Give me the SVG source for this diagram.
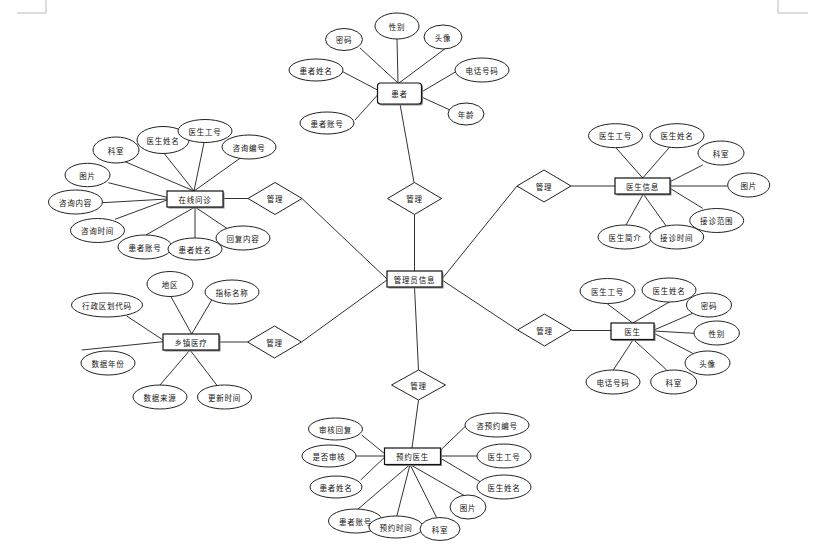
<svg xmlns="http://www.w3.org/2000/svg" width="830" height="554" viewBox="0 0 830 554">
<style>
text{font-family:"Noto Sans CJK SC","Noto Sans",sans-serif;font-size:7.5px;letter-spacing:0.8px;fill:#111;text-anchor:middle;dominant-baseline:central}
.ln{stroke:#333;stroke-width:1;fill:none}
.mark{stroke:#bbb;stroke-width:1;fill:none}
ellipse{fill:#fff;stroke:#222;stroke-width:1}
.ent rect.b{fill:#fff;stroke:#111;stroke-width:1.2}
.ent rect.s{fill:#888;stroke:none}
polygon{fill:#fff;stroke:#222;stroke-width:1}
</style>
<rect width="830" height="554" fill="#fff"/>
<path class="mark" d="M46,0V13H17M778,0V13H808"/>
<g id="connectors" class="ln">
<path d="M400,104L414,182.5M414.5,214.5V271M302,198.5L387,279M248,198.5H223M301.5,342L387,280M247.5,342H219M517,186L442,279M571,186H615M517.5,330L442,280M571.5,330.5H611M414.5,287L418.5,370M418.5,400L412,448"/>
<path d="M360,48L398,83M397,39L398,83M446,48L399,83M457,71L421.5,92M450,110L421.5,97M342.7,71.7L377.5,90M355,120L377.5,95"/>
<path d="M125,161.7L194,191M164,153.3L194,191M204,142.7L194,191M240,158.3L194,191M108.3,182.7L167,197.3M102.7,202.7L167,199M115,219.3L167,200M146,235L195,207M195,238.3V207M229.3,230L195,207"/>
<path d="M615,146.7L642.7,178M670,146.7L642.7,178M702.7,165L670,181.7M727.3,186H670M702.7,208.3L670,188.3M626,225L643.3,194M666.7,226.7L643.3,194"/>
<path d="M170,295L191.7,334M211.7,300L191.7,334M126.7,316L163,340M81.7,350L163,341.7M160,385L190,350M216.7,385L190,350"/>
<path d="M606.7,303.3L632.7,323M670,301.7L632.7,323M692.7,313.3L654,330M694,333.3L654,331M692.7,353.3L654,333.3M613.3,370L633.3,339.5M666.7,370L633.3,339.5"/>
<path d="M361.7,435L385,454M356,456H384.5M360.7,480L384.5,457.3M355,511.7L410,464.5M396.7,516.7L410,464.5M436.7,517.7L410,464.5M465,496L410,464.5M466.7,425L440.7,450M477.3,456H440.7M480,481.7L440.7,458.3"/>
</g>
<g id="rel-top"><polygon points="387.5,198.5 414.5,182.5 441.5,198.5 414.5,214.5"/><text x="414.5" y="198.5">管理</text></g>
<g id="rel-left-upper"><polygon points="248,198.5 275,182.5 302,198.5 275,214.5"/><text x="275" y="198.5">管理</text></g>
<g id="rel-left-lower"><polygon points="247.5,342 274.5,326 301.5,342 274.5,358"/><text x="274.5" y="342">管理</text></g>
<g id="rel-right-upper"><polygon points="517,186 544,170 571,186 544,202"/><text x="544" y="186">管理</text></g>
<g id="rel-right-lower"><polygon points="517.5,330 544.5,314 571.5,330 544.5,346"/><text x="544.5" y="330">管理</text></g>
<g id="rel-bottom"><polygon points="391.5,385 418.5,370 445.5,385 418.5,400"/><text x="418.5" y="385">管理</text></g>
<g id="ent-patient" class="ent"><rect class="s" x="379" y="84.5" width="44" height="21" rx="3"/><rect class="b" x="377.5" y="83" width="44" height="21" rx="3"/><text x="399.5" y="93.5">患者</text></g>
<g id="ent-admin" class="ent"><rect class="s" x="388.5" y="272.5" width="55" height="16"/><rect class="b" x="387" y="271" width="55" height="16"/><text x="414.5" y="279">管理员信息</text></g>
<g id="ent-consult" class="ent"><rect class="s" x="168.5" y="192.5" width="56" height="16"/><rect class="b" x="167" y="191" width="56" height="16"/><text x="195" y="199">在线问诊</text></g>
<g id="ent-docinfo" class="ent"><rect class="s" x="616.5" y="179.5" width="55" height="16"/><rect class="b" x="615" y="178" width="55" height="16"/><text x="642.5" y="186">医生信息</text></g>
<g id="ent-town" class="ent"><rect class="s" x="164.5" y="335.5" width="56" height="16"/><rect class="b" x="163" y="334" width="56" height="16"/><text x="191" y="342">乡镇医疗</text></g>
<g id="ent-doctor" class="ent"><rect class="s" x="612.5" y="324.5" width="43" height="16.5"/><rect class="b" x="611" y="323" width="43" height="16.5"/><text x="632.5" y="331">医生</text></g>
<g id="ent-booking" class="ent"><rect class="s" x="386" y="449.5" width="56" height="16.5"/><rect class="b" x="384.5" y="448" width="56" height="16.5"/><text x="412.5" y="456">预约医生</text></g>
<g id="attr-patient">
<ellipse cx="344" cy="39.5" rx="18.5" ry="11"/><text x="344" y="39.5">密码</text>
<ellipse cx="397" cy="26" rx="22" ry="13"/><text x="397" y="26">性别</text>
<ellipse cx="443" cy="37" rx="19" ry="12"/><text x="443" y="37">头像</text>
<ellipse cx="482" cy="70" rx="27" ry="12"/><text x="482" y="70">电话号码</text>
<ellipse cx="466" cy="114" rx="18" ry="11"/><text x="466" y="114">年龄</text>
<ellipse cx="316" cy="70" rx="27" ry="11"/><text x="316" y="70">患者姓名</text>
<ellipse cx="327" cy="123" rx="27" ry="11"/><text x="327" y="123">患者账号</text>
</g>
<g id="attr-consult">
<ellipse cx="116" cy="150" rx="23" ry="13"/><text x="116" y="150">科室</text>
<ellipse cx="163" cy="140" rx="26" ry="13.5"/><text x="163" y="140">医生姓名</text>
<ellipse cx="205" cy="131" rx="27" ry="11.5"/><text x="205" y="131">医生工号</text>
<ellipse cx="249" cy="147" rx="27" ry="12"/><text x="249" y="147">咨询编号</text>
<ellipse cx="87.5" cy="175" rx="22.5" ry="11.7"/><text x="87.5" y="175">图片</text>
<ellipse cx="75.5" cy="202" rx="27" ry="12"/><text x="75.5" y="202">咨询内容</text>
<ellipse cx="97.5" cy="230.5" rx="27" ry="12"/><text x="97.5" y="230.5">咨询时间</text>
<ellipse cx="145" cy="247" rx="27" ry="12"/><text x="145" y="247">患者账号</text>
<ellipse cx="195" cy="249" rx="27" ry="11"/><text x="195" y="249">患者姓名</text>
<ellipse cx="243" cy="238" rx="27" ry="12"/><text x="243" y="238">回复内容</text>
</g>
<g id="attr-docinfo">
<ellipse cx="615.5" cy="135.7" rx="27" ry="12"/><text x="615.5" y="135.7">医生工号</text>
<ellipse cx="677" cy="135.7" rx="27" ry="12"/><text x="677" y="135.7">医生姓名</text>
<ellipse cx="721" cy="153" rx="23" ry="12"/><text x="721" y="153">科室</text>
<ellipse cx="748.7" cy="185" rx="21" ry="12"/><text x="748.7" y="185">图片</text>
<ellipse cx="716.7" cy="220.5" rx="27" ry="12"/><text x="716.7" y="220.5">接诊范围</text>
<ellipse cx="625" cy="237" rx="27" ry="12"/><text x="625" y="237">医生简介</text>
<ellipse cx="676.7" cy="237" rx="27" ry="12"/><text x="676.7" y="237">接诊时间</text>
</g>
<g id="attr-town">
<ellipse cx="170" cy="284" rx="23" ry="12.5"/><text x="170" y="284">地区</text>
<ellipse cx="232" cy="292" rx="27" ry="12"/><text x="232" y="292">指标名称</text>
<ellipse cx="107" cy="305" rx="35.5" ry="12"/><text x="107" y="305">行政区划代码</text>
<ellipse cx="108" cy="363" rx="27" ry="12"/><text x="108" y="363">数据年份</text>
<ellipse cx="160" cy="397" rx="27" ry="12"/><text x="160" y="397">数据来源</text>
<ellipse cx="224.5" cy="397" rx="27" ry="12"/><text x="224.5" y="397">更新时间</text>
</g>
<g id="attr-doctor">
<ellipse cx="607.5" cy="291" rx="27.5" ry="12.5"/><text x="607.5" y="291">医生工号</text>
<ellipse cx="669" cy="290" rx="27" ry="12"/><text x="669" y="290">医生姓名</text>
<ellipse cx="709" cy="305" rx="22.5" ry="12"/><text x="709" y="305">密码</text>
<ellipse cx="716.7" cy="333" rx="22.7" ry="12"/><text x="716.7" y="333">性别</text>
<ellipse cx="707.5" cy="363" rx="22.5" ry="12"/><text x="707.5" y="363">头像</text>
<ellipse cx="613" cy="382" rx="27" ry="12"/><text x="613" y="382">电话号码</text>
<ellipse cx="673.7" cy="382" rx="23" ry="12"/><text x="673.7" y="382">科室</text>
</g>
<g id="attr-booking">
<ellipse cx="335.5" cy="429" rx="27" ry="11"/><text x="335.5" y="429">审核回复</text>
<ellipse cx="329" cy="456" rx="27" ry="11"/><text x="329" y="456">是否审核</text>
<ellipse cx="336" cy="487" rx="26" ry="11"/><text x="336" y="487">患者姓名</text>
<ellipse cx="355.5" cy="521" rx="27" ry="12"/><text x="355.5" y="521">患者账号</text>
<ellipse cx="396" cy="527" rx="27" ry="11"/><text x="396" y="527">预约时间</text>
<ellipse cx="440" cy="529" rx="20" ry="11.5"/><text x="440" y="529">科室</text>
<ellipse cx="468" cy="507" rx="18" ry="12"/><text x="468" y="507">图片</text>
<ellipse cx="504" cy="487" rx="27" ry="12"/><text x="504" y="487">医生姓名</text>
<ellipse cx="504" cy="456" rx="27" ry="12"/><text x="504" y="456">医生工号</text>
<ellipse cx="497" cy="425" rx="32" ry="12"/><text x="497" y="425">咨预约编号</text>
</g>
</svg>
